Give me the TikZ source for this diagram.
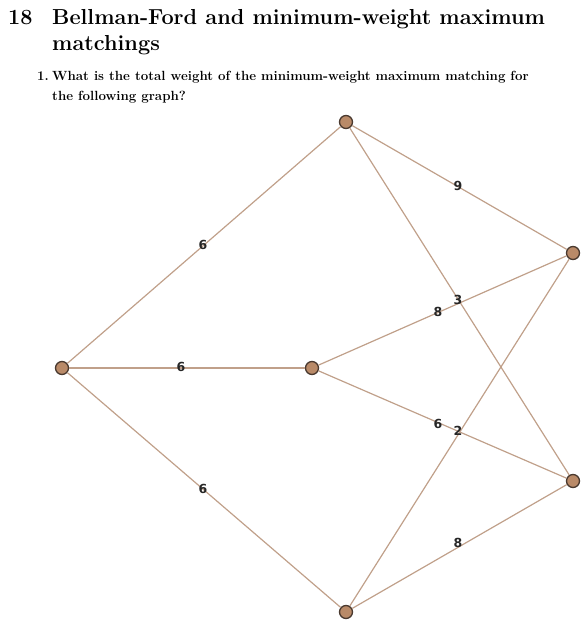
\documentclass[tikz,border=0pt]{standalone}
\usepackage{fontspec}
\newfontfamily\labfont{DejaVu Sans}
\definecolor{edgec}{HTML}{C0A08A}
\definecolor{nodefill}{HTML}{B98A68}
\definecolor{nodeline}{HTML}{4A3A30}
\tikzset{
  vert/.style={circle,draw=nodeline,fill=nodefill,line width=1.3pt,minimum size=13pt,inner sep=0pt},
  edge/.style={draw=edgec,line width=1.2pt},
  wlab/.style={font=\labfont\bfseries\fontsize{12.5}{12.5}\selectfont,inner sep=0pt,text=black!85},
  title/.style={anchor=base west,inner sep=0pt,font=\bfseries\fontsize{21.7}{25}\selectfont},
  quest/.style={anchor=base west,inner sep=0pt,font=\bfseries\fontsize{13.3}{15}\selectfont}
}
\begin{document}
\begin{tikzpicture}[x=1pt,y=-1pt]
\useasboundingbox (0,0) rectangle (586,625);
\node[title] (num) at (8,24) {18};
\node[title] (t1) at (52,24) {Bellman-Ford and minimum-weight maximum};
\node[title] (t2) at (52,50) {matchings};
\node[quest] (qn) at (37,80) {1.};
\node[quest] (q1) at (52,80) {What is the total weight of the minimum-weight maximum matching for};
\node[quest] (q2) at (52,100) {the following graph?};
\node[vert] (A) at (62,368) {};
\node[vert] (B) at (346,122) {};
\node[vert] (C) at (312,368) {};
\node[vert] (D) at (346,612) {};
\node[vert] (E) at (573,253) {};
\node[vert] (F) at (573,481) {};
\path[edge] (A) -- (B);
\path[edge] (A) -- (C);
\path[edge] (A) -- (D);
\path[edge] (B) -- (E);
\path[edge] (B) -- (F);
\path[edge] (C) -- (E);
\path[edge] (C) -- (F);
\path[edge] (D) -- (E);
\path[edge] (D) -- (F);
\node[wlab] (lAB) at (203,245) {6};
\node[wlab] (lAC) at (181,367) {6};
\node[wlab] (lAD) at (203,489) {6};
\node[wlab] (lBE) at (458,186) {9};
\node[wlab] (lBF) at (458,300) {3};
\node[wlab] (lCE) at (438,312) {8};
\node[wlab] (lCF) at (438,424) {6};
\node[wlab] (lDE) at (458,431) {2};
\node[wlab] (lDF) at (458,543) {8};
\end{tikzpicture}
\end{document}
